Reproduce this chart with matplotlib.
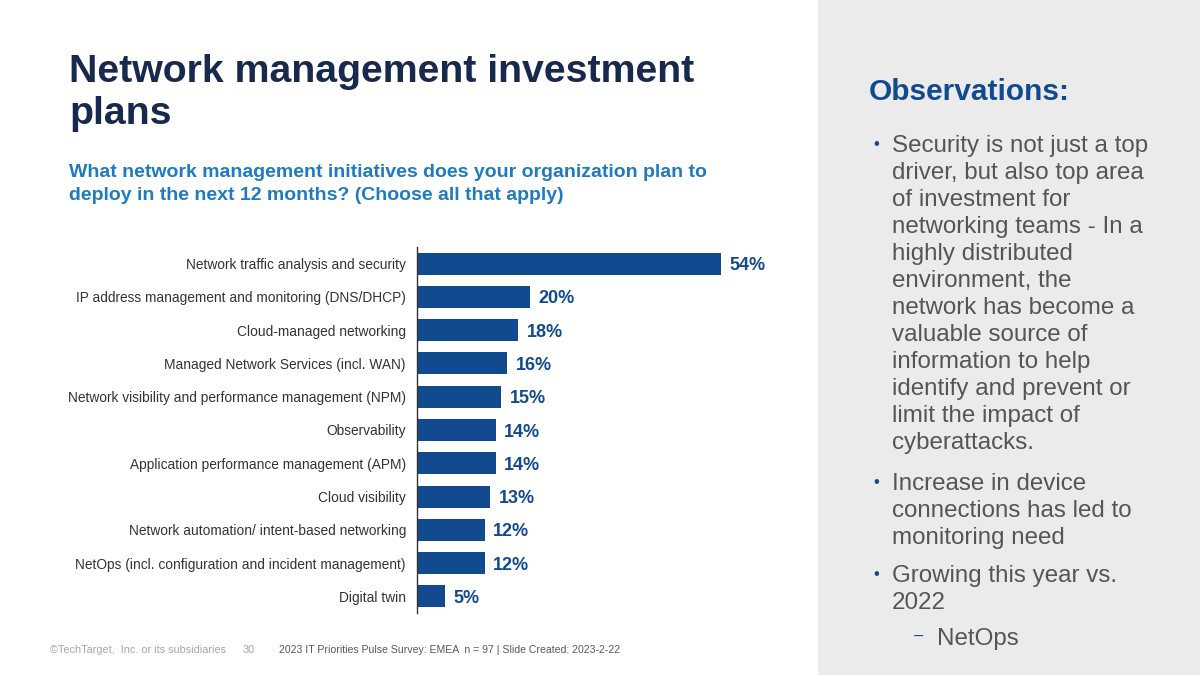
import matplotlib.pyplot as plt
from matplotlib.patches import Rectangle

plt.rcParams['font.family'] = ['Liberation Sans', 'DejaVu Sans']

# chart data
categories = [
    "Network traffic analysis and security",
    "IP address management and monitoring (DNS/DHCP)",
    "Cloud-managed networking",
    "Managed Network Services (incl. WAN)",
    "Network visibility and performance management (NPM)",
    "Observability",
    "Application performance management (APM)",
    "Cloud visibility",
    "Network automation/ intent-based networking",
    "NetOps (incl. configuration and incident management)",
    "Digital twin",
]
values = [54, 20, 18, 16, 15, 14, 14, 13, 12, 12, 5]

title_lines = ["Network management investment", "plans"]
question_lines = ["What network management initiatives does your organization plan to",
                  "deploy in the next 12 months? (Choose all that apply)"]

bullets = [
    ["Security is not just a top", "driver, but also top area", "of investment for",
     "networking teams - In a", "highly distributed", "environment, the",
     "network has become a", "valuable source of", "information to help",
     "identify and prevent or", "limit the impact of", "cyberattacks."],
    ["Increase in device", "connections has led to", "monitoring need"],
    ["Growing this year vs.", "2022"],
]
sub_bullet = "NetOps"

footer_left = "©TechTarget,  Inc. or its subsidiaries"
page_no = "30"
footer_src = "2023 IT Priorities Pulse Survey: EMEA  n = 97 | Slide Created: 2023-2-22"

W, H = 1200, 675
bar_color = "#124A8F"
navy = "#17294D"
blue_q = "#1F7BC1"
gray_txt = "#555555"

fig = plt.figure(figsize=(12, 6.75), dpi=100)
fig.patch.set_facecolor("white")


def px(x, y):
    return x / W, 1 - y / H


# right panel background
fig.patches.append(Rectangle((818 / W, 0), 1 - 818 / W, 1, transform=fig.transFigure,
                             facecolor="#EBEBEB", edgecolor="none", zorder=0))

# title and question
for i, line in enumerate(title_lines):
    fig.text(*px(69, 72 + i * 42), line, fontsize=28.3, fontweight="bold", color=navy,
             va="center", ha="left")
for i, line in enumerate(question_lines):
    fig.text(*px(69, 173 + i * 23), line, fontsize=14, fontweight="bold", color=blue_q,
             va="center", ha="left")

# bar chart
ax_left, ax_top, ax_bot = 417, 247, 613
ax = fig.add_axes([ax_left / W, 1 - ax_bot / H, 338 / W, (ax_bot - ax_top) / H])
ypos = list(range(len(categories)))
ax.barh(ypos, values, height=0.66, color=bar_color)
ax.set_xlim(0, 60)
ax.set_ylim(len(categories) - 0.5, -0.5)
ax.set_yticks(ypos)
ax.set_yticklabels(categories, fontsize=9.9, color="#333333")
ax.tick_params(axis="y", length=0, pad=8)
ax.set_xticks([])
for s in ["top", "right", "bottom"]:
    ax.spines[s].set_visible(False)
ax.spines["left"].set_color("#333333")
ax.spines["left"].set_linewidth(1)
ax.patch.set_alpha(0)
for y, v in zip(ypos, values):
    ax.annotate(f"{v}%", (v, y), xytext=(6, -1.5), textcoords="offset points",
                va="center", ha="left", fontsize=13, fontweight="bold", color=bar_color)

# observations panel
fig.text(*px(869, 92), "Observations:", fontsize=21.5, fontweight="bold", color=bar_color,
         va="center", ha="left")
line_h = 27
gaps = [14, 11, 0]
y = 146
for group, gap in zip(bullets, gaps):
    fig.text(*px(873, y - 1), "•", fontsize=12, color=bar_color, va="center", ha="left")
    for line in group:
        fig.text(*px(892, y), line, fontsize=17.4, color=gray_txt, va="center", ha="left")
        y += line_h
    y += gap
y += 9
fig.text(*px(914, y - 3), "–", fontsize=12, color=bar_color, va="center", ha="left")
fig.text(*px(937, y), sub_bullet, fontsize=17.4, color=gray_txt, va="center", ha="left")

# footer
fig.text(*px(50, 650), footer_left, fontsize=7.8, color="#A6A6A6", va="center", ha="left")
fig.text(*px(243, 650), page_no, fontsize=7.8, color="#A6A6A6", va="center", ha="left")
fig.text(*px(279, 650), footer_src, fontsize=7.6, color="#595959", va="center", ha="left")

fig.savefig("out.png", dpi=100)
